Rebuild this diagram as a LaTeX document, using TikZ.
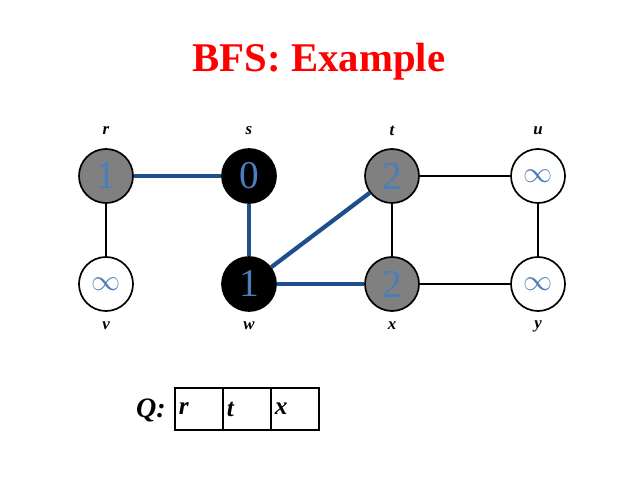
\documentclass[tikz,border=0pt]{standalone}
\usepackage{fontspec}
\setmainfont{Liberation Serif}
\definecolor{edgeblue}{HTML}{1F4E8C}
\definecolor{numblue}{HTML}{4A7EBB}
\begin{document}
\begin{tikzpicture}[x=0.025cm,y=-0.025cm,
  vtx/.style={circle,draw=black,line width=1.2pt,minimum size=1.35cm,inner sep=0pt,
    text=numblue,font=\fontsize{28}{30}\selectfont},
  gray/.style={vtx,fill=gray},
  blk/.style={vtx,fill=black},
  wht/.style={vtx,fill=white,font=\fontsize{20}{22}\selectfont},
  lbl/.style={font=\fontsize{12}{14}\selectfont\bfseries\itshape},
  tree/.style={draw=edgeblue,line width=3pt},
  plain/.style={draw=black,line width=1pt},
  cell/.style={draw=black,line width=1pt,minimum width=1.2cm,minimum height=1.05cm,
    inner sep=0pt,text width=1.0cm,font=\fontsize{18}{20}\selectfont\bfseries\itshape}]
\useasboundingbox (0,0) rectangle (638,478);
\node[text=red,font=\fontsize{29}{32}\selectfont\bfseries] (title) at (319,62) {BFS: Example};
\node[gray] (r) at (106,176) {1};
\node[blk]  (s) at (249,176) {0};
\node[gray] (t) at (392,176) {2};
\node[wht]  (u) at (538,176) {$\infty$};
\node[wht]  (v) at (106,284) {$\infty$};
\node[blk]  (w) at (249,284) {1};
\node[gray] (x) at (392,284) {2};
\node[wht]  (y) at (538,284) {$\infty$};
\node[lbl] (lr) at (106,131) {r};
\node[lbl] (ls) at (249,131) {s};
\node[lbl] (lt) at (392,131) {t};
\node[lbl] (lu) at (538,131) {u};
\node[lbl] (lv) at (106,326) {v};
\node[lbl] (lw) at (249,326) {w};
\node[lbl] (lx) at (392,326) {x};
\node[lbl] (ly) at (538,326) {y};
\draw[tree] (r) -- (s);
\draw[tree] (s) -- (w);
\draw[tree] (w) -- (t);
\draw[tree] (w) -- (x);
\draw[plain] (r) -- (v);
\draw[plain] (t) -- (u);
\draw[plain] (t) -- (x);
\draw[plain] (x) -- (y);
\draw[plain] (u) -- (y);
\node[font=\fontsize{20}{22}\selectfont\bfseries\itshape] (q) at (151,410) {Q:};
\node[cell] (c1) at (199,409) {r};
\node[cell] (c2) at (247,409) {t};
\node[cell] (c3) at (295,409) {x};
\end{tikzpicture}
\end{document}
